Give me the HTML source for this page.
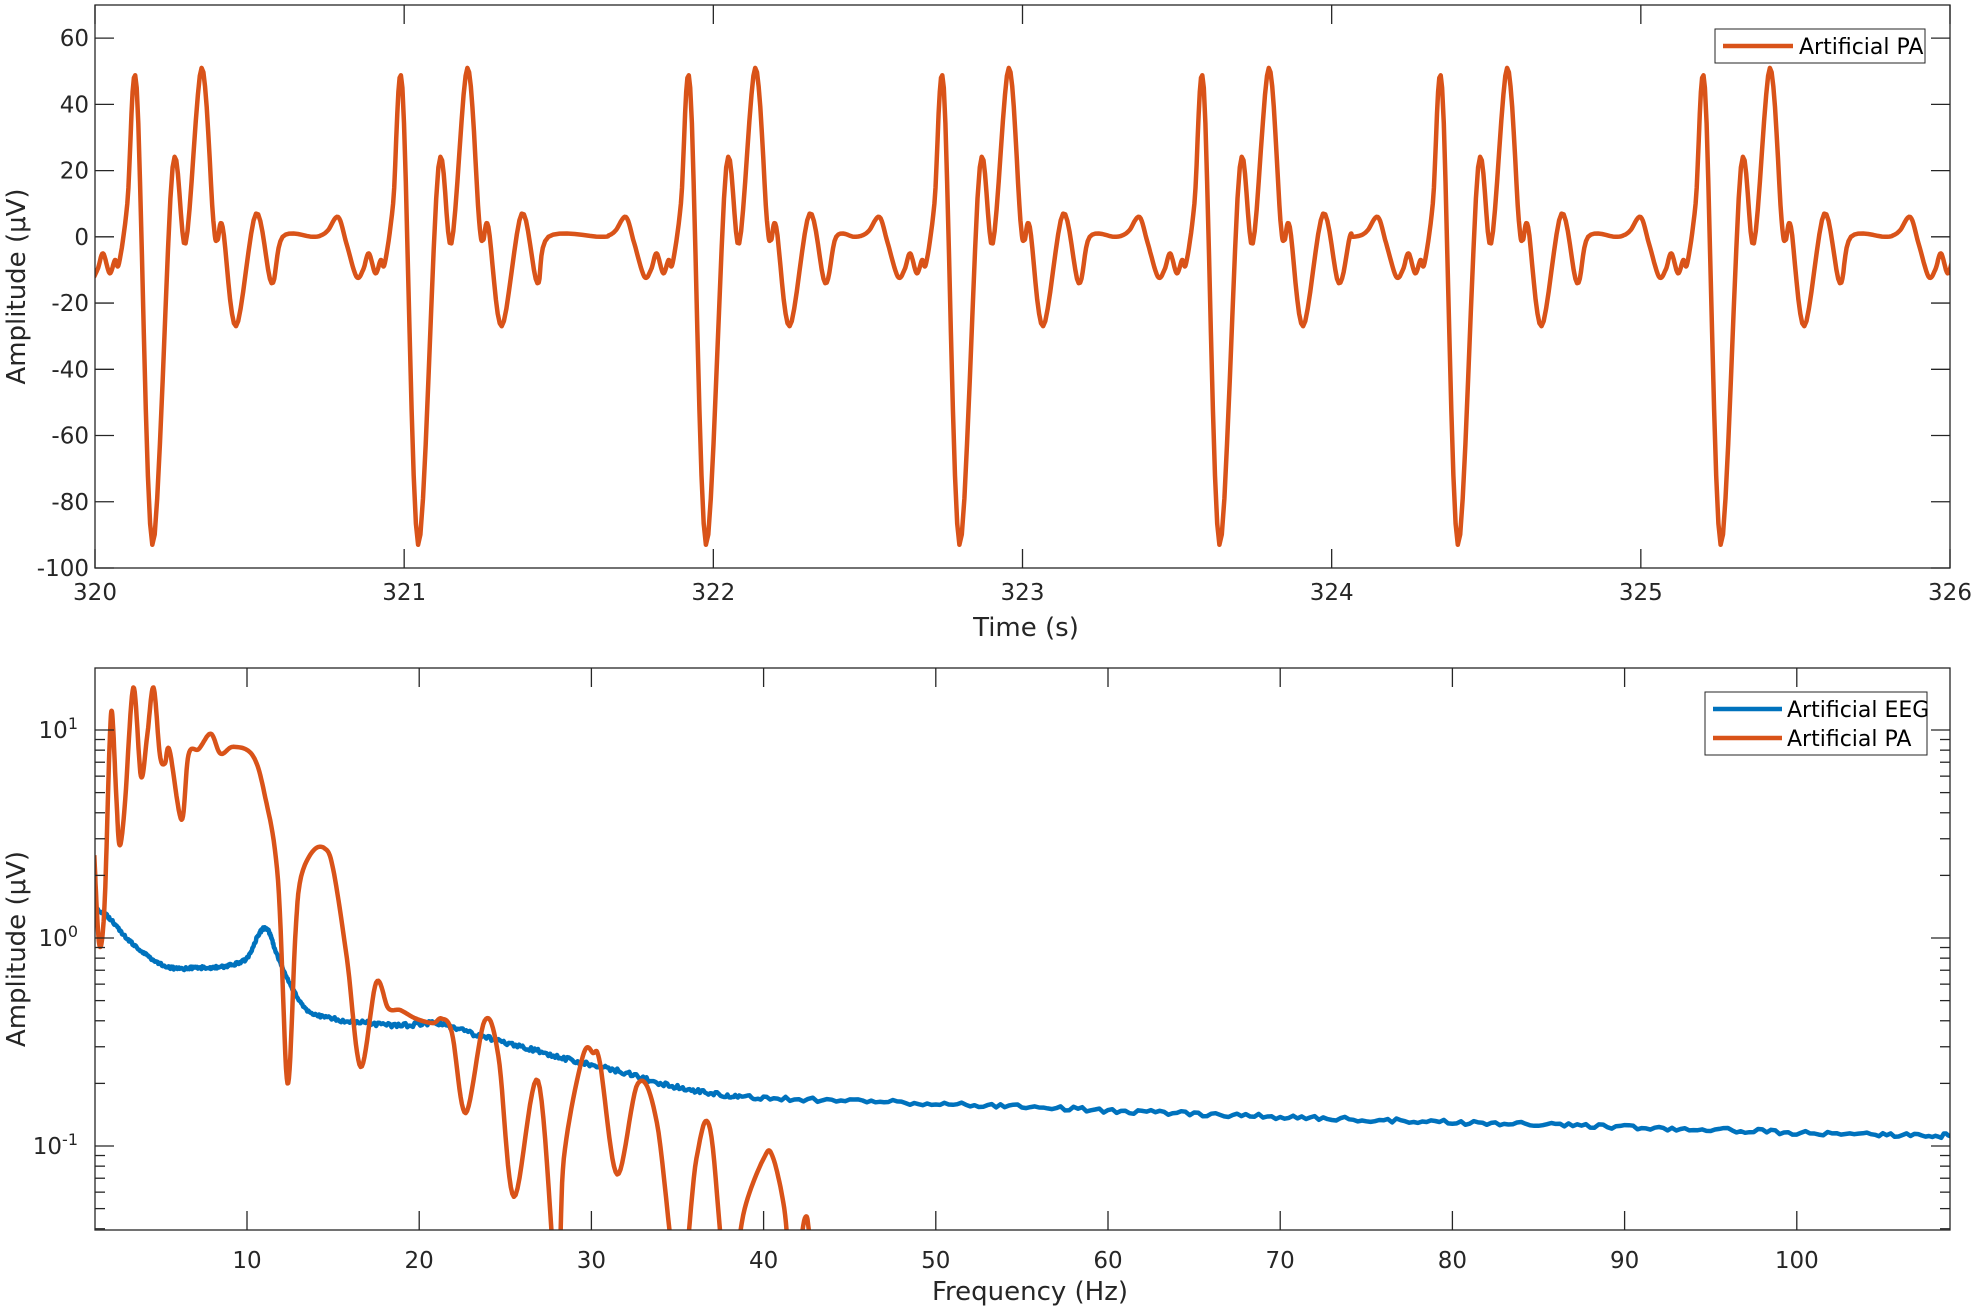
<!DOCTYPE html>
<html><head><meta charset="utf-8">
<style>
html,body{margin:0;padding:0;background:#fff;overflow:hidden;width:1979px;height:1311px;position:relative;}
svg{position:absolute;left:0;top:0;display:block;font-family:"DejaVu Sans","Liberation Sans",sans-serif;}
</style></head>
<body>
<svg id="s" width="1979" height="1311" viewBox="0 0 1979 1311" xmlns="http://www.w3.org/2000/svg">
<defs>
<clipPath id="c1"><rect x="95" y="5" width="1855" height="563"/></clipPath>
<clipPath id="c2"><rect x="95" y="668" width="1855" height="562"/></clipPath>
</defs>
<g id="g"></g>
</svg>
<script>
var NS="http://www.w3.org/2000/svg",g=document.getElementById('g');
function el(t,a,txt){var e=document.createElementNS(NS,t);for(var k in a)e.setAttribute(k,a[k]);if(txt!==undefined)e.textContent=txt;g.appendChild(e);return e;}
function cr(pts,n){var out=[];for(var i=0;i<pts.length-1;i++){var p0=pts[Math.max(i-1,0)],p1=pts[i],p2=pts[i+1],p3=pts[Math.min(i+2,pts.length-1)];
for(var j=0;j<n;j++){var t=j/n,t2=t*t,t3=t2*t;
var x=0.5*((2*p1[0])+(-p0[0]+p2[0])*t+(2*p0[0]-5*p1[0]+4*p2[0]-p3[0])*t2+(-p0[0]+3*p1[0]-3*p2[0]+p3[0])*t3);
var y=0.5*((2*p1[1])+(-p0[1]+p2[1])*t+(2*p0[1]-5*p1[1]+4*p2[1]-p3[1])*t2+(-p0[1]+3*p1[1]-3*p2[1]+p3[1])*t3);out.push([x,y]);}}
out.push(pts[pts.length-1]);return out;}
function path(p){return 'M'+p.map(function(q){return q[0].toFixed(1)+','+q[1].toFixed(1)}).join('L');}
var OR='#D95319',BL='#0072BD',AX='#262626';
var X0=95,X1=1950,T0=5,T1=568;
function tx(t){return X0+(t-320)*(X1-X0)/6;}
function ty(v){return T1-(v+100)*(T1-T0)/170;}
var tmpl=[[-315,0],[-290,0.5],[-270,2],[-240,6],[-215,-2],[-185,-12],[-165,-10],[-148,-5],[-128,-11],[-112,-7],[-100,-8],[-75,10],[-47,45],[0,-93],[61,21],[100,-2],[148,51],[183,5],[195,-1],[211,3],[251,-27],[311,7],[358,-14],[391,0]];
var troughs=[-0.66,0.1854,1.045,1.976,2.796,3.637,4.408,5.258,6.13];
var kp=[];
troughs.forEach(function(tr){tmpl.forEach(function(q){kp.push([320+tr+q[0]*0.001078,q[1]]);});});
var sp=cr(kp.map(function(q){return [tx(q[0]),ty(q[1])]}),8);
el('path',{d:path(sp),fill:'none',stroke:OR,'stroke-width':4.5,'stroke-linejoin':'round','clip-path':'url(#c1)'});
el('rect',{x:X0,y:T0,width:X1-X0,height:T1-T0,fill:'none',stroke:AX,'stroke-width':1.3});
for(var t=320;t<=326;t++){var x=tx(t);el('line',{x1:x,y1:T1,x2:x,y2:T1-19,stroke:AX,'stroke-width':1.3});el('line',{x1:x,y1:T0,x2:x,y2:T0+19,stroke:AX,'stroke-width':1.3});
el('text',{x:x,y:600,'font-size':23,'text-anchor':'middle',fill:AX},String(t));}
for(var v=-100;v<=60;v+=20){var y=ty(v);el('line',{x1:X0,y1:y,x2:X0+19,y2:y,stroke:AX,'stroke-width':1.3});el('line',{x1:X1,y1:y,x2:X1-19,y2:y,stroke:AX,'stroke-width':1.3});
el('text',{x:89,y:y+8,'font-size':23,'text-anchor':'end',fill:AX},String(v));}
el('text',{x:1026,y:636,'font-size':26,'text-anchor':'middle',fill:AX},'Time (s)');
el('text',{x:0,y:0,'font-size':26,'text-anchor':'middle',fill:AX,transform:'translate(25,'+((T0+T1)/2)+') rotate(-90)'},'Amplitude (\u03bcV)');
el('rect',{x:1715,y:29,width:210,height:34,fill:'#fff',stroke:AX,'stroke-width':1});
el('line',{x1:1723,y1:46,x2:1793,y2:46,stroke:OR,'stroke-width':4.5});
el('text',{x:1799,y:54,'font-size':22,fill:'#000'},'Artificial PA');
var B0=668,B1=1230;
function fx(f){return 247+(f-10)*17.22;}
function ly(v){return 938-Math.log10(v)*208;}
var blue=[[1.2,1.38],[2,1.25],[3,1.0],[4,0.85],[5,0.75],[6,0.71],[7,0.72],[8,0.72],[9,0.74],[10,0.8],[10.7,1.05],[11.2,1.1],[11.7,0.85],[12.5,0.6],[13.5,0.45],[15,0.41],[17,0.39],[19,0.38],[21,0.39],[22,0.37],[24,0.33],[26,0.3],[28,0.27],[30,0.245],[32,0.225],[34,0.2],[36,0.185],[38,0.175],[40,0.17],[45,0.165],[50,0.16],[55,0.155],[60,0.148],[65,0.143],[70,0.138],[75,0.134],[80,0.13],[85,0.127],[90,0.123],[95,0.12],[100,0.116],[105,0.113],[108.9,0.112]];
var bs=cr(blue.map(function(q){return [fx(q[0]),ly(q[1])]}),20);
var seed=1;function rnd(){seed=(seed*9301+49297)%233280;return seed/233280;}
bs=bs.map(function(q,i){return [q[0],q[1]+(rnd()-0.5)*(q[0]>330?4.5:3)];});
el('path',{d:path(bs),fill:'none',stroke:BL,'stroke-width':4.5,'stroke-linejoin':'round','clip-path':'url(#c2)'});
var orng=[[1.13,2.5],[1.42,0.93],[1.72,1.4],[2.0,7.6],[2.16,12.2],[2.4,5],[2.6,2.8],[2.9,4.3],[3.4,16],[3.84,6],[4.2,9.3],[4.57,16],[4.94,7.6],[5.23,6.9],[5.5,8],[6.2,3.7],[6.6,7.6],[7.2,8.1],[7.9,9.6],[8.46,7.7],[9.2,8.3],[10.3,7.6],[11.0,5],[11.8,1.9],[12.35,0.2],[12.8,1.0],[13.1,1.9],[13.8,2.6],[14.5,2.7],[15.0,2.15],[15.8,0.8],[16.6,0.24],[17.5,0.61],[18.2,0.46],[18.9,0.45],[19.8,0.41],[20.8,0.39],[21.3,0.41],[21.9,0.35],[22.7,0.144],[23.8,0.4],[24.6,0.27],[25.5,0.057],[26.9,0.206],[28.0,0.02],[28.4,0.087],[29.5,0.27],[30.1,0.28],[30.5,0.25],[31.5,0.073],[32.7,0.2],[33.8,0.13],[35.1,0.02],[36.1,0.087],[36.9,0.12],[37.9,0.02],[38.9,0.05],[40.0,0.087],[40.5,0.09],[41.2,0.05],[41.7,0.02],[42.4,0.045],[42.8,0.03],[44,0.005],[60,0.001],[108.9,0.001]];
var os=cr(orng.map(function(q){return [fx(q[0]),ly(q[1])]}),12);
el('path',{d:path(os),fill:'none',stroke:OR,'stroke-width':4.5,'stroke-linejoin':'round','clip-path':'url(#c2)'});
el('rect',{x:X0,y:B0,width:X1-X0,height:B1-B0,fill:'none',stroke:AX,'stroke-width':1.3});
for(var f=10;f<=100;f+=10){var x=fx(f);el('line',{x1:x,y1:B1,x2:x,y2:B1-19,stroke:AX,'stroke-width':1.3});el('line',{x1:x,y1:B0,x2:x,y2:B0+19,stroke:AX,'stroke-width':1.3});
el('text',{x:x,y:1268,'font-size':23,'text-anchor':'middle',fill:AX},String(f));}
[-2,-1,0,1].forEach(function(e){for(var m=1;m<10;m++){var v=m*Math.pow(10,e),y=ly(v);if(y<B0||y>B1)continue;var L=(m==1)?19:10;
el('line',{x1:X0,y1:y,x2:X0+L,y2:y,stroke:AX,'stroke-width':1.3});el('line',{x1:X1,y1:y,x2:X1-L,y2:y,stroke:AX,'stroke-width':1.3});}});
[[1,730],[0,938],[-1,1146]].forEach(function(a){var t=el('text',{x:78,y:a[1]+8,'font-size':23,'text-anchor':'end',fill:AX},'10');
var ts=document.createElementNS(NS,'tspan');ts.setAttribute('dy','-9');ts.setAttribute('font-size','16');ts.textContent=String(a[0]);t.appendChild(ts);});
el('text',{x:1030,y:1300,'font-size':26,'text-anchor':'middle',fill:AX},'Frequency (Hz)');
el('text',{x:0,y:0,'font-size':26,'text-anchor':'middle',fill:AX,transform:'translate(25,'+((B0+B1)/2)+') rotate(-90)'},'Amplitude (\u03bcV)');
el('rect',{x:1705,y:692,width:222,height:63,fill:'#fff',stroke:AX,'stroke-width':1});
el('line',{x1:1713,y1:709,x2:1782,y2:709,stroke:BL,'stroke-width':4.5});
el('line',{x1:1713,y1:738,x2:1782,y2:738,stroke:OR,'stroke-width':4.5});
el('text',{x:1787,y:717,'font-size':22,fill:'#000'},'Artificial EEG');
el('text',{x:1787,y:746,'font-size':22,fill:'#000'},'Artificial PA');
</script>
</body></html>
